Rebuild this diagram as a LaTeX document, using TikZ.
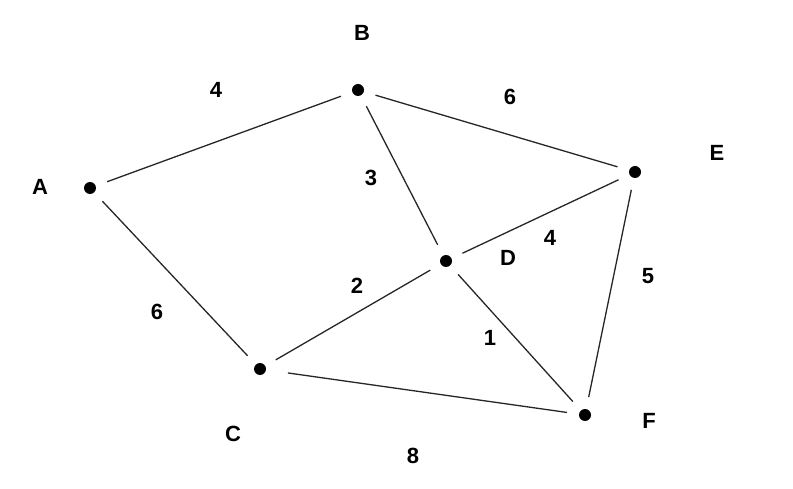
\documentclass[tikz,border=0pt]{standalone}
\usepackage{fontspec}
\setmainfont{Liberation Sans}
\begin{document}
\begin{tikzpicture}[x=1pt,y=-1pt,
  vtx/.style={circle,fill=black,inner sep=0pt,minimum size=12pt},
  lbl/.style={font=\fontsize{22}{22}\selectfont\bfseries},
  edge/.style={line width=1.3pt,black!85,shorten <=12pt,shorten >=12pt}]
\useasboundingbox (0,0) rectangle (793,489);
\node[vtx] (A) at (90,188) {};
\node[vtx] (B) at (358,90) {};
\node[vtx] (E) at (635,172) {};
\node[vtx] (D) at (446,261) {};
\node[vtx] (C) at (260,369) {};
\node[vtx] (F) at (585,415) {};
\node[lbl] (lA) at (40,187) {A};
\node[lbl] (lB) at (362,33) {B};
\node[lbl] (lE) at (717,153) {E};
\node[lbl] (lD) at (508,258) {D};
\node[lbl] (lC) at (233,434) {C};
\node[lbl] (lF) at (649,421) {F};
\draw[edge] (A) -- (B);
\draw[edge] (B) -- (E);
\draw[edge] (B) -- (D);
\draw[edge] (D) -- (E);
\draw[edge] (E) -- (F);
\draw[edge] (C) -- (D);
\draw[edge] (A) -- (C);
\draw[edge] (D) -- (F);
\draw[edge,shorten <=22pt] (C) -- (F);
\node[lbl] (w1) at (216,90) {4};
\node[lbl] (w2) at (510,97) {6};
\node[lbl] (w3) at (371,178) {3};
\node[lbl] (w4) at (550,238) {4};
\node[lbl] (w5) at (648,276) {5};
\node[lbl] (w6) at (357,286) {2};
\node[lbl] (w7) at (157,312) {6};
\node[lbl] (w8) at (490,338) {1};
\node[lbl] (w9) at (413,456) {8};
\end{tikzpicture}
\end{document}
